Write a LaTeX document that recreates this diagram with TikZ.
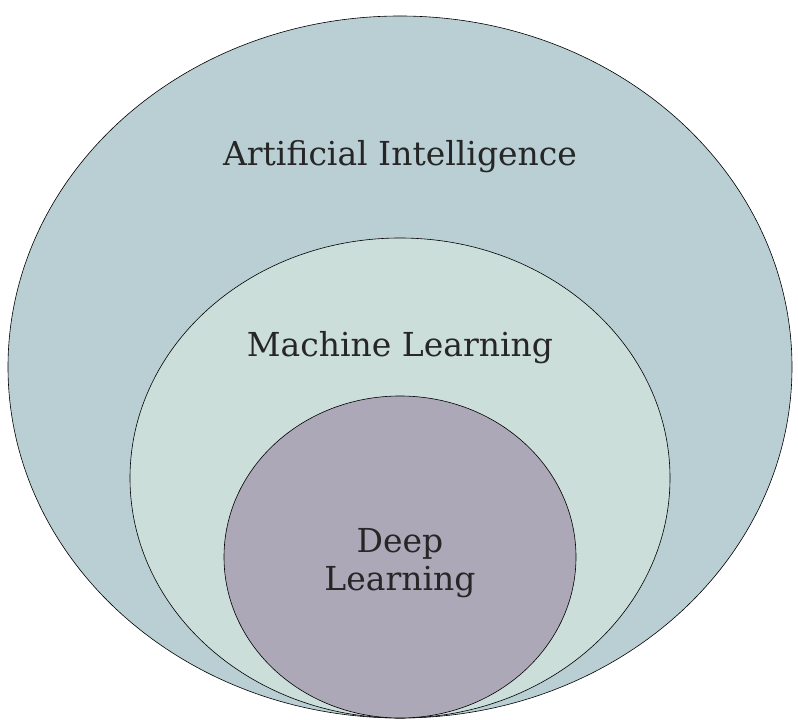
\documentclass[tikz,border=0pt]{standalone}
\usepackage{fontspec}
\setmainfont{DejaVu Serif}
\usepackage{xcolor}
\definecolor{aiblue}{HTML}{BACFD3}
\definecolor{mlgreen}{HTML}{CCDEDA}
\definecolor{dlgray}{HTML}{ADA8B8}

\begin{document}
\begin{tikzpicture}[x=1pt,y=1pt,
  field/.style={draw=black,line width=0.6pt},
  label/.style={font=\fontsize{33}{38}\selectfont,align=center,text=black!85}]
\useasboundingbox (0,0) rectangle (798,720);

\draw[field,fill=aiblue] (400,353) ellipse [x radius=392,y radius=351];
\draw[field,fill=mlgreen] (400,242) ellipse [x radius=270,y radius=240];
\draw[field,fill=dlgray] (400,163) ellipse [x radius=176,y radius=161];

\node[label] (ai) at (400,563) {Artificial Intelligence};
\node[label] (ml) at (400,372) {Machine Learning};
\node[label] (dl) at (400,157) {Deep\\Learning};
\end{tikzpicture}
\end{document}
